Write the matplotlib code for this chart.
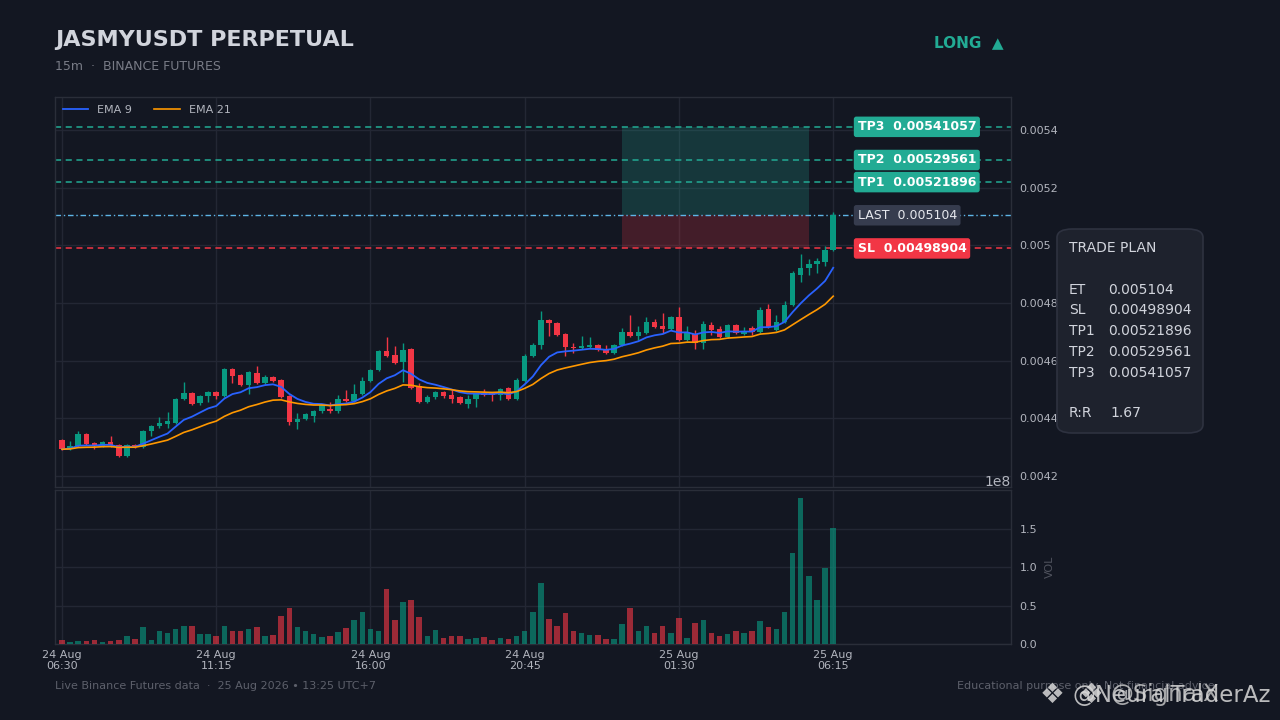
import numpy as np
import pandas as pd
import matplotlib
matplotlib.use("Agg")
import matplotlib.pyplot as plt
from matplotlib.patches import Rectangle, FancyBboxPatch

# ---------------- data ----------------
opens = [0.004325, 0.004293, 0.004304, 0.004345, 0.004314, 0.004304, 0.004318, 0.004307, 0.004270, 0.004307,
         0.004300, 0.004356, 0.004372, 0.004380, 0.004384, 0.004467, 0.004488, 0.004453, 0.004478, 0.004491,
         0.004477, 0.004571, 0.004551, 0.004516, 0.004557, 0.004523, 0.004543, 0.004533, 0.004477, 0.004387,
         0.004398, 0.004408, 0.004425, 0.004432, 0.004425, 0.004467, 0.004460, 0.004484, 0.004529, 0.004567,
         0.004633, 0.004620, 0.004595, 0.004640, 0.004512, 0.004457, 0.004474, 0.004491, 0.004480, 0.004474,
         0.004450, 0.004467, 0.004488, 0.004488, 0.004481, 0.004505, 0.004467, 0.004529, 0.004616, 0.004654,
         0.004741, 0.004730, 0.004692, 0.004647, 0.004644, 0.004647, 0.004654, 0.004640, 0.004626, 0.004654,
         0.004700, 0.004685, 0.004696, 0.004734, 0.004720, 0.004710, 0.004751, 0.004672, 0.004692, 0.004661,
         0.004724, 0.004710, 0.004682, 0.004724, 0.004692, 0.004713, 0.004700, 0.004779, 0.004706, 0.004734,
         0.004793, 0.004897, 0.004921, 0.004935, 0.004942, 0.004983]
highs = [0.004330, 0.004320, 0.004356, 0.004348, 0.004318, 0.004322, 0.004340, 0.004310, 0.004312, 0.004312,
         0.004360, 0.004376, 0.004405, 0.004423, 0.004470, 0.004526, 0.004492, 0.004482, 0.004495, 0.004494,
         0.004575, 0.004574, 0.004555, 0.004564, 0.004583, 0.004550, 0.004547, 0.004536, 0.004480, 0.004418,
         0.004419, 0.004428, 0.004449, 0.004457, 0.004481, 0.004498, 0.004519, 0.004543, 0.004571, 0.004637,
         0.004682, 0.004651, 0.004661, 0.004644, 0.004522, 0.004480, 0.004495, 0.004494, 0.004501, 0.004477,
         0.004481, 0.004488, 0.004501, 0.004492, 0.004505, 0.004509, 0.004540, 0.004623, 0.004661, 0.004772,
         0.004745, 0.004734, 0.004696, 0.004661, 0.004685, 0.004682, 0.004658, 0.004654, 0.004658, 0.004713,
         0.004758, 0.004720, 0.004751, 0.004744, 0.004765, 0.004756, 0.004786, 0.004720, 0.004706, 0.004737,
         0.004734, 0.004720, 0.004727, 0.004727, 0.004717, 0.004720, 0.004786, 0.004796, 0.004758, 0.004807,
         0.004911, 0.004970, 0.004953, 0.004956, 0.004998, 0.005115]
lows = [0.004290, 0.004290, 0.004300, 0.004308, 0.004293, 0.004300, 0.004302, 0.004266, 0.004266, 0.004296,
        0.004298, 0.004340, 0.004366, 0.004366, 0.004380, 0.004462, 0.004446, 0.004446, 0.004456, 0.004466,
        0.004474, 0.004522, 0.004512, 0.004484, 0.004519, 0.004519, 0.004525, 0.004470, 0.004377, 0.004363,
        0.004394, 0.004387, 0.004420, 0.004418, 0.004420, 0.004456, 0.004456, 0.004480, 0.004525, 0.004563,
        0.004612, 0.004588, 0.004526, 0.004501, 0.004453, 0.004453, 0.004468, 0.004470, 0.004453, 0.004450,
        0.004436, 0.004439, 0.004478, 0.004460, 0.004463, 0.004463, 0.004463, 0.004526, 0.004612, 0.004640,
        0.004685, 0.004685, 0.004616, 0.004626, 0.004640, 0.004644, 0.004633, 0.004622, 0.004622, 0.004650,
        0.004682, 0.004672, 0.004692, 0.004713, 0.004696, 0.004706, 0.004668, 0.004668, 0.004640, 0.004640,
        0.004689, 0.004678, 0.004678, 0.004692, 0.004689, 0.004689, 0.004696, 0.004713, 0.004703, 0.004730,
        0.004790, 0.004873, 0.004897, 0.004904, 0.004928, 0.004980]
closes = [0.004293, 0.004304, 0.004345, 0.004310, 0.004304, 0.004318, 0.004307, 0.004270, 0.004307, 0.004300,
          0.004356, 0.004372, 0.004384, 0.004392, 0.004467, 0.004488, 0.004450, 0.004478, 0.004491, 0.004477,
          0.004571, 0.004547, 0.004516, 0.004560, 0.004523, 0.004543, 0.004529, 0.004474, 0.004387, 0.004398,
          0.004415, 0.004425, 0.004446, 0.004425, 0.004467, 0.004460, 0.004484, 0.004529, 0.004567, 0.004633,
          0.004616, 0.004592, 0.004637, 0.004505, 0.004457, 0.004474, 0.004491, 0.004477, 0.004467, 0.004453,
          0.004467, 0.004484, 0.004481, 0.004481, 0.004502, 0.004467, 0.004533, 0.004616, 0.004654, 0.004741,
          0.004730, 0.004689, 0.004647, 0.004644, 0.004651, 0.004654, 0.004637, 0.004626, 0.004654, 0.004700,
          0.004685, 0.004700, 0.004734, 0.004717, 0.004710, 0.004751, 0.004672, 0.004700, 0.004661, 0.004727,
          0.004706, 0.004682, 0.004724, 0.004696, 0.004703, 0.004700, 0.004776, 0.004717, 0.004734, 0.004793,
          0.004904, 0.004921, 0.004935, 0.004945, 0.004983, 0.005104]
volumes = [0.053, 0.026, 0.040, 0.040, 0.053, 0.026, 0.040, 0.053, 0.105, 0.066,
           0.224, 0.053, 0.171, 0.145, 0.197, 0.237, 0.237, 0.132, 0.132, 0.105,
           0.237, 0.171, 0.171, 0.197, 0.224, 0.105, 0.118, 0.368, 0.474, 0.224,
           0.171, 0.132, 0.092, 0.105, 0.158, 0.211, 0.316, 0.421, 0.197, 0.171,
           0.724, 0.316, 0.553, 0.579, 0.355, 0.105, 0.184, 0.079, 0.104, 0.104,
           0.065, 0.078, 0.091, 0.052, 0.078, 0.065, 0.104, 0.170, 0.417, 0.796,
           0.326, 0.235, 0.404, 0.170, 0.143, 0.117, 0.117, 0.065, 0.065, 0.261,
           0.470, 0.170, 0.235, 0.143, 0.235, 0.143, 0.339, 0.078, 0.274, 0.313,
           0.143, 0.104, 0.130, 0.170, 0.143, 0.170, 0.300, 0.222, 0.196, 0.417,
           1.187, 1.904, 0.887, 0.574, 0.996, 1.513]  # x1e8
tick_pos = [0, 19, 38, 57, 76, 95]
tick_labels = ["24 Aug\n06:30", "24 Aug\n11:15", "24 Aug\n16:00", "24 Aug\n20:45", "25 Aug\n01:30", "25 Aug\n06:15"]

entry = 0.005104
sl = 0.00498904
tp1, tp2, tp3 = 0.00521896, 0.00529561, 0.00541057
rr = 1.67
zone_start, zone_end = 69, 92

# ---------------- style ----------------
BG = "#131722"
GRID = "#232734"
SPINE = "#2a2e39"
TXT = "#b2b5be"
GREEN = "#089981"
RED = "#f23645"
TEAL = "#22ab94"

o = np.array(opens); h = np.array(highs); l = np.array(lows); c = np.array(closes)
v = np.array(volumes) * 1e8
x = np.arange(len(o))
up = c >= o
ema9 = pd.Series(c).ewm(span=9, adjust=False).mean().values
ema21 = pd.Series(c).ewm(span=21, adjust=False).mean().values

fig = plt.figure(figsize=(12.8, 7.2), dpi=100, facecolor=BG)
ax = fig.add_axes([55/1280, 1-487/720, (1011-55)/1280, (487-97)/720])
axv = fig.add_axes([55/1280, 1-644/720, (1011-55)/1280, (644-490)/720], sharex=ax)

for a in (ax, axv):
    a.set_facecolor(BG)
    for s in a.spines.values():
        s.set_color(SPINE)
        s.set_linewidth(1)
    a.yaxis.tick_right()
    a.tick_params(axis="both", length=0, colors=TXT, labelsize=8, pad=6)
    a.grid(True, color=GRID, linewidth=1)
    a.set_axisbelow(True)

# candles
w = 0.68
cols = np.where(up, GREEN, RED)
ax.vlines(x, l, h, colors=cols, linewidth=1, zorder=3)
body_lo = np.minimum(o, c)
body_h = np.maximum(np.abs(c - o), 0.000004)
ax.bar(x, body_h, bottom=body_lo, width=w, color=cols, zorder=4, linewidth=0)

ax.plot(x, ema9, color="#2962ff", lw=1.3, label="EMA 9", zorder=5)
ax.plot(x, ema21, color="#ff9800", lw=1.2, label="EMA 21", zorder=5)

# trade zone
ax.add_patch(Rectangle((zone_start, entry), zone_end - zone_start, tp3 - entry,
                       facecolor=TEAL, alpha=0.22, edgecolor="none", zorder=1))
ax.add_patch(Rectangle((zone_start, sl), zone_end - zone_start, entry - sl,
                       facecolor=RED, alpha=0.22, edgecolor="none", zorder=1))

for lvl in (tp1, tp2, tp3):
    ax.axhline(lvl, color=TEAL, lw=1.1, ls=(0, (4, 3)), zorder=2)
ax.axhline(sl, color=RED, lw=1.1, ls=(0, (4, 3)), zorder=2)
ax.axhline(entry, color="#5eb5e6", lw=1.0, ls=(0, (4, 2, 1, 2)), zorder=2)

lab_x = 98.0
for name, lvl in (("TP3", tp3), ("TP2", tp2), ("TP1", tp1)):
    ax.text(lab_x, lvl, f"{name}  {lvl:.8f}", color="white", fontsize=9, fontweight="bold",
            va="center", ha="left", zorder=7,
            bbox=dict(boxstyle="round,pad=0.3,rounding_size=0.2", fc=TEAL, ec="none"))
ax.text(lab_x, entry, f"LAST  {entry:.6f}", color="#e6e8ee", fontsize=9,
        va="center", ha="left", zorder=7,
        bbox=dict(boxstyle="round,pad=0.3,rounding_size=0.2", fc="#363c4e", ec="none"))
ax.text(lab_x, sl, f"SL  {sl:.8f}", color="white", fontsize=9, fontweight="bold",
        va="center", ha="left", zorder=7,
        bbox=dict(boxstyle="round,pad=0.3,rounding_size=0.2", fc=RED, ec="none"))

ax.set_xlim(-0.86, 116.9)
ax.set_ylim(0.004162, 0.005514)
ax.set_yticks([0.0042, 0.0044, 0.0046, 0.0048, 0.005, 0.0052, 0.0054])
ax.set_yticklabels(["0.0042", "0.0044", "0.0046", "0.0048", "0.005", "0.0052", "0.0054"])
ax.set_xticks(tick_pos)
ax.tick_params(axis="x", labelbottom=False)

leg = ax.legend(loc="upper left", ncol=2, frameon=False, fontsize=8, labelcolor=TXT,
                handlelength=2.3, columnspacing=2.0, borderaxespad=0.3)

# volume
vcols = np.where(up, GREEN, RED)
axv.bar(x, v, width=w, color=vcols, alpha=0.62, linewidth=0, zorder=3)
axv.set_ylim(0, 2.01e8)
axv.set_yticks([0, 0.5e8, 1.0e8, 1.5e8])
axv.set_xticks(tick_pos)
axv.set_xticklabels(tick_labels)
axv.tick_params(axis="x", pad=4)
axv.yaxis.get_offset_text().set_color(TXT)
axv.yaxis.get_offset_text().set_fontsize(10)
axv.yaxis.set_label_position("right")
axv.set_ylabel("VOL", color="#50535e", fontsize=8, rotation=90, labelpad=6)

# header
fig.text(55/1280, 1-40/720, "JASMYUSDT PERPETUAL", color="#d1d4dc", fontsize=16,
         fontweight="bold", va="center", ha="left")
fig.text(55/1280, 1-66/720, "15m  ·  BINANCE FUTURES", color="#787b86", fontsize=9,
         va="center", ha="left")
fig.text(1004/1280, 1-43/720, "LONG  ▲", color=TEAL, fontsize=11, fontweight="bold",
         va="center", ha="right")

# trade plan box
box = FancyBboxPatch((1057/1280, 1-433/720), (1203-1057)/1280, (433-229)/720,
                     boxstyle="round,pad=0,rounding_size=0.012", transform=fig.transFigure,
                     facecolor="#1e222d", edgecolor="#2e3240", linewidth=1.2)
fig.patches.append(box)
fig.text(1069/1280, 1-248/720, "TRADE PLAN", color="#d1d4dc", fontsize=10, va="center")
rows = [("ET", f"{entry:.6f}", 290), ("SL", f"{sl:.8f}", 310), ("TP1", f"{tp1:.8f}", 331),
        ("TP2", f"{tp2:.8f}", 352), ("TP3", f"{tp3:.8f}", 373), ("R:R", f"{rr:.2f}", 413)]
for k, val, yy in rows:
    fig.text(1069/1280, 1-yy/720, k, color="#d1d4dc", fontsize=10, va="center")
    fig.text((1108 if k != "R:R" else 1110)/1280, 1-yy/720, val, color="#d1d4dc", fontsize=10, va="center")

# footer
fig.text(55/1280, 1-686/720, "Live Binance Futures data  ·  25 Aug 2026 • 13:25 UTC+7",
         color="#5d606b", fontsize=8, va="center")
fig.text(1218/1280, 1-686/720, "Educational purpose only. Not financial advice.",
         color="#5d606b", fontsize=8, va="center", ha="right")
# watermark (overlapping, as in the reference)
fig.text(1052/1280, 1-695/720, "❖", color="#d8d8d8", fontsize=20, va="center", ha="center", alpha=0.85)
fig.text(1091/1280, 1-695/720, "❖", color="#d8d8d8", fontsize=20, va="center", ha="center", alpha=0.85)
fig.text(1072/1280, 1-695/720, "@NeuralTraderAz", color="#d8d8d8", fontsize=16.5, va="center", alpha=0.85)
fig.text(1110/1280, 1-695/720, "@SignalX", color="#d8d8d8", fontsize=16.5, va="center", alpha=0.75)

fig.savefig("out.png", dpi=100, facecolor=BG)
